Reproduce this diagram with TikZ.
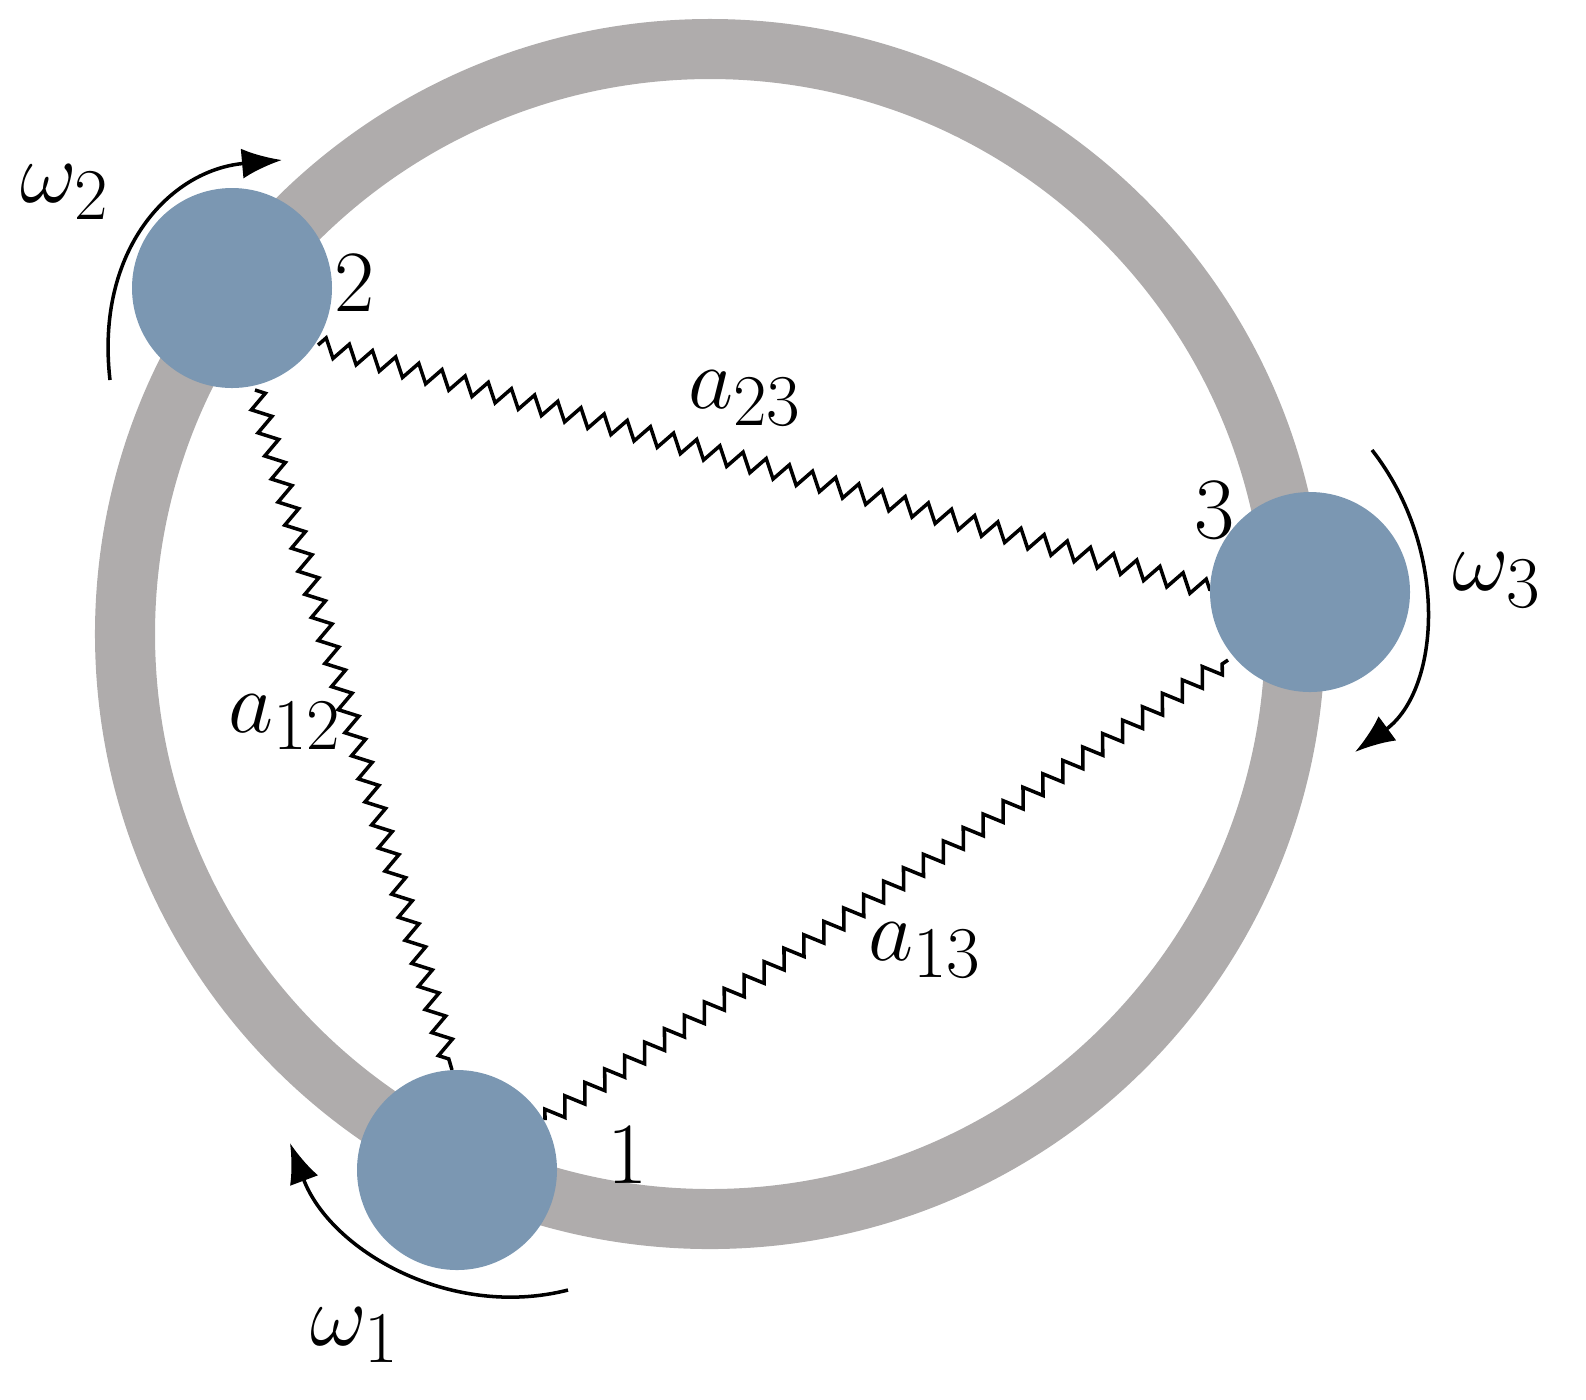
\documentclass[tikz,border=0pt]{standalone}
\usetikzlibrary{decorations.pathmorphing,arrows.meta}
\definecolor{ringgray}{RGB}{175,172,172}
\definecolor{ballblue}{RGB}{123,151,178}
\begin{document}
\begin{tikzpicture}[x=0.01cm,y=-0.01cm,
  ball/.style={circle,fill=ballblue,minimum size=200*0.01cm,inner sep=0pt},
  spring/.style={decorate,decoration={zigzag,segment length=0.24cm,amplitude=0.09cm},line width=1pt},
  lbl/.style={font=\fontsize{28}{32}\selectfont,inner sep=0pt},
  rot/.style={-{Latex[length=0.4cm,width=0.3cm]},line width=1pt}]
\useasboundingbox (0,0) rectangle (1586,1399);
\draw[ringgray,line width=0.6cm] (710,634) ellipse (585 and 585);
\coordinate (s2a) at (318,345); \coordinate (s3a) at (1212,590);
\coordinate (s2b) at (255,390); \coordinate (s1b) at (452,1070);
\coordinate (s1c) at (545,1120); \coordinate (s3c) at (1228,660);
\draw[spring] (s2a) -- (s3a);
\draw[spring] (s2b) -- (s1b);
\draw[spring] (s1c) -- (s3c);
\node[ball] (n2) at (232,288) {};
\node[ball] (n3) at (1310,592) {};
\node[ball] (n1) at (457,1170) {};
\node[lbl] (l2) at (355,283) {$2$};
\node[lbl] (l3) at (1215,510) {$3$};
\node[lbl] (l1) at (628,1155) {$1$};
\node[lbl] (a23) at (745,398) {$a_{23}$};
\node[lbl] (a12) at (285,722) {$a_{12}$};
\node[lbl] (a13) at (925,950) {$a_{13}$};
\node[lbl] (w2) at (65,192) {$\omega_2$};
\node[lbl] (w3) at (1497,580) {$\omega_3$};
\node[lbl] (w1) at (355,1335) {$\omega_1$};
\coordinate (r2s) at (110,380); \coordinate (r2e) at (282,160);
\coordinate (r3s) at (1372,450); \coordinate (r3e) at (1355,752);
\coordinate (r1s) at (568,1290); \coordinate (r1e) at (290,1143);
\draw[rot] (r2s) .. controls (95,250) and (170,170) .. (r2e);
\draw[rot] (r3s) .. controls (1450,550) and (1440,690) .. (r3e);
\draw[rot] (r1s) .. controls (450,1320) and (330,1250) .. (r1e);
\end{tikzpicture}
\end{document}
